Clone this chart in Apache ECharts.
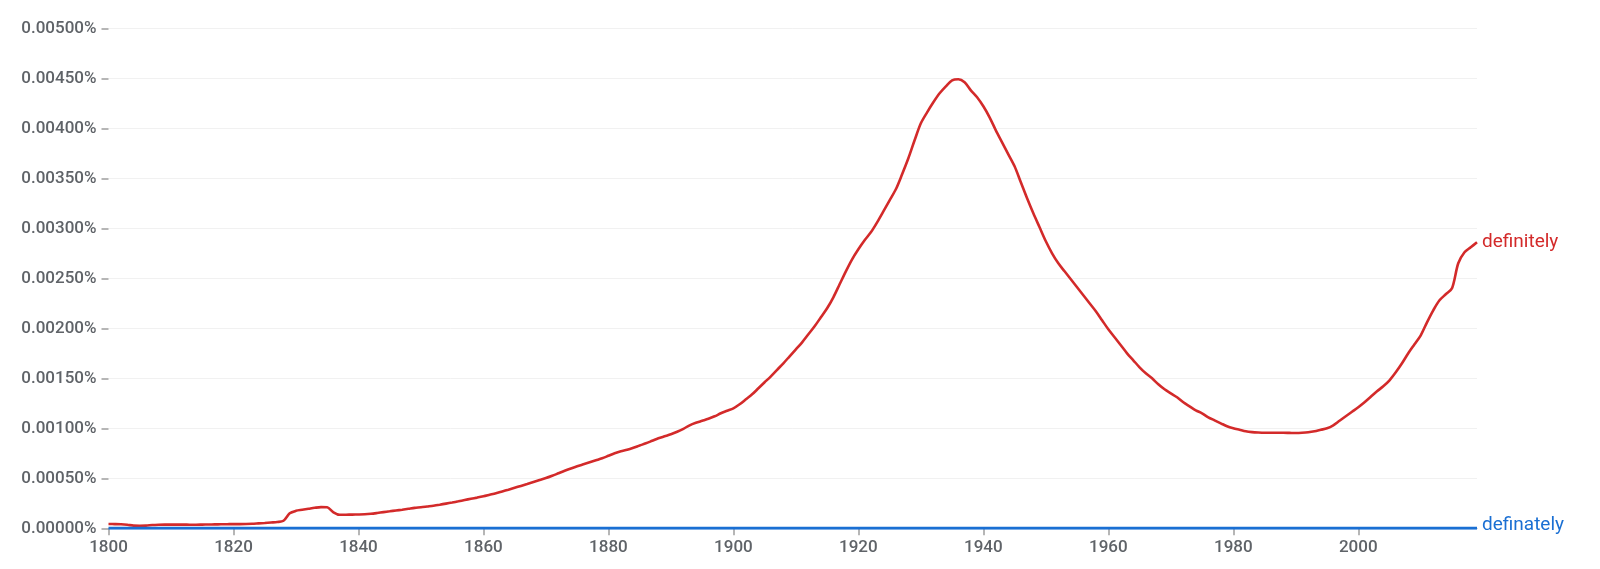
<!DOCTYPE html>
<html>
<head>
<meta charset="utf-8">
<script src="https://cdn.jsdelivr.net/npm/echarts@6/dist/echarts.min.js"></script>
<style>
html,body{margin:0;padding:0;background:#fff;}
#chart{width:1600px;height:569px;}
</style>
</head>
<body>
<div id="chart"></div>
<script>
// Years 1800..2019
var years = [];
for (var y = 1800; y <= 2019; y++) years.push(String(y));

// "definitely" (percent of corpus)
var definitely = [
0.000043,0.000042,0.000040,0.000035,0.000027,0.000026,0.000027,0.000033,0.000036,0.000037,
0.000037,0.000037,0.000037,0.000036,0.000036,0.000037,0.000038,0.000039,0.000040,0.000041,
0.000042,0.000042,0.000043,0.000045,0.000049,0.000053,0.000058,0.000063,0.000075,0.000150,
0.000175,0.000185,0.000195,0.000205,0.000212,0.000210,0.000160,0.000135,0.000136,0.000137,
0.000138,0.000140,0.000145,0.000153,0.000162,0.000170,0.000178,0.000186,0.000195,0.000204,
0.000210,0.000218,0.000226,0.000236,0.000247,0.000258,0.000270,0.000283,0.000295,0.000307,
0.000320,0.000335,0.000350,0.000368,0.000386,0.000405,0.000424,0.000443,0.000463,0.000483,
0.000502,0.000525,0.000550,0.000575,0.000598,0.000620,0.000640,0.000660,0.000680,0.000700,
0.000725,0.000750,0.000770,0.000785,0.000805,0.000828,0.000850,0.000875,0.000900,0.000920,
0.000940,0.000965,0.000995,0.001030,0.001055,0.001075,0.001095,0.001120,0.001150,0.001175,
0.001200,0.001240,0.001290,0.001340,0.001400,0.001460,0.001520,0.001585,0.001650,0.001720,
0.001790,0.001860,0.001940,0.002020,0.002110,0.002200,0.002310,0.002440,0.002570,0.002690,
0.002790,0.002880,0.002960,0.003060,0.003170,0.003280,0.003390,0.003540,0.003700,0.003880,
0.004050,0.004160,0.004260,0.004350,0.004420,0.004480,0.004490,0.004460,0.004380,0.004310,
0.004220,0.004110,0.003980,0.003860,0.003740,0.003620,0.003460,0.003300,0.003150,0.003010,
0.002870,0.002750,0.002650,0.002570,0.002490,0.002410,0.002330,0.002250,0.002170,0.002080,
0.001990,0.001910,0.001830,0.001750,0.001680,0.001610,0.001550,0.001500,0.001440,0.001390,
0.001350,0.001310,0.001260,0.001220,0.001180,0.001150,0.001110,0.001080,0.001050,0.001020,
0.001000,0.000985,0.000970,0.000962,0.000958,0.000956,0.000956,0.000955,0.000955,0.000954,
0.000953,0.000955,0.000960,0.000970,0.000985,0.001000,0.001030,0.001075,0.001120,0.001165,
0.001210,0.001260,0.001315,0.001370,0.001420,0.001480,0.001560,0.001650,0.001750,0.001840,
0.001930,0.002060,0.002180,0.002280,0.002340,0.002400,0.002650,0.002760,0.002810,0.002860
];

// "definately" (percent of corpus)
var definately = [
0.0000001,0.0000001,0.0000001,0.0000001,0.0000001,0.0000001,0.0000001,0.0000001,0.0000001,0.0000001,
0.0000001,0.0000001,0.0000001,0.0000001,0.0000001,0.0000001,0.0000001,0.0000001,0.0000001,0.0000001,
0.0000001,0.0000001,0.0000001,0.0000001,0.0000001,0.0000001,0.0000001,0.0000001,0.0000001,0.0000001,
0.0000001,0.0000001,0.0000001,0.0000001,0.0000001,0.0000001,0.0000001,0.0000001,0.0000001,0.0000001,
0.0000001,0.0000001,0.0000001,0.0000001,0.0000001,0.0000001,0.0000001,0.0000001,0.0000001,0.0000001,
0.0000001,0.0000001,0.0000001,0.0000001,0.0000001,0.0000001,0.0000001,0.0000001,0.0000001,0.0000001,
0.0000001,0.0000001,0.0000001,0.0000001,0.0000001,0.0000001,0.0000001,0.0000001,0.0000001,0.0000001,
0.0000001,0.0000001,0.0000001,0.0000001,0.0000001,0.0000001,0.0000001,0.0000001,0.0000001,0.0000001,
0.0000001,0.0000001,0.0000001,0.0000001,0.0000001,0.0000001,0.0000001,0.0000001,0.0000001,0.0000001,
0.0000001,0.0000001,0.0000001,0.0000001,0.0000001,0.0000001,0.0000001,0.0000001,0.0000001,0.0000001,
0.0000002,0.0000002,0.0000002,0.0000002,0.0000002,0.0000002,0.0000002,0.0000002,0.0000002,0.0000002,
0.0000002,0.0000002,0.0000002,0.0000002,0.0000002,0.0000002,0.0000002,0.0000002,0.0000002,0.0000002,
0.0000002,0.0000002,0.0000002,0.0000002,0.0000002,0.0000002,0.0000002,0.0000002,0.0000002,0.0000002,
0.0000002,0.0000002,0.0000002,0.0000002,0.0000002,0.0000002,0.0000002,0.0000002,0.0000002,0.0000002,
0.0000002,0.0000002,0.0000002,0.0000002,0.0000002,0.0000002,0.0000002,0.0000002,0.0000002,0.0000002,
0.0000002,0.0000002,0.0000002,0.0000002,0.0000002,0.0000002,0.0000002,0.0000002,0.0000002,0.0000002,
0.0000003,0.0000003,0.0000003,0.0000003,0.0000003,0.0000004,0.0000004,0.0000005,0.0000005,0.0000006,
0.0000007,0.0000008,0.0000008,0.0000009,0.0000009,0.0000009,0.0000009,0.0000009,0.0000009,0.0000009,
0.0000009,0.0000009,0.0000009,0.0000009,0.0000009,0.0000009,0.0000009,0.0000009,0.0000009,0.0000009,
0.0000009,0.0000009,0.0000008,0.0000007,0.0000006,0.0000005,0.0000005,0.0000005,0.0000005,0.0000005,
0.0000005,0.0000005,0.0000005,0.0000005,0.0000005,0.0000005,0.0000005,0.0000005,0.0000005,0.0000005,
0.0000005,0.0000005,0.0000005,0.0000005,0.0000005,0.0000005,0.0000005,0.0000005,0.0000005,0.0000005
];

var yTicks = [0, 0.0005, 0.001, 0.0015, 0.002, 0.0025, 0.003, 0.0035, 0.004, 0.0045, 0.005];

var chart = echarts.init(document.getElementById('chart'), null, {renderer: 'canvas'});
var fontFam = 'Roboto, "Noto Sans", sans-serif';
chart.setOption({
  animation: false,
  backgroundColor: '#ffffff',
  grid: {left: 108.5, right: 123, top: 28.3, bottom: 40.7, containLabel: false},
  xAxis: {
    type: 'category',
    data: years,
    boundaryGap: false,
    axisLine: {show: true, lineStyle: {color: '#9e9e9e', width: 1}},
    axisTick: {show: true, length: 7, lineStyle: {color: '#9e9e9e', width: 1.5},
      interval: function (i, v) { return Number(v) % 20 === 0; }},
    axisLabel: {
      interval: function (i, v) { return Number(v) % 20 === 0; },
      color: '#5f6368', fontFamily: fontFam, fontSize: 17, fontWeight: 500, margin: 11
    },
    splitLine: {show: false}
  },
  yAxis: {
    type: 'value',
    min: yTicks[0],
    max: yTicks[yTicks.length - 1],
    interval: 0.0005,
    axisLine: {show: false},
    axisTick: {show: true, length: 7, lineStyle: {color: '#9e9e9e', width: 1.5}},
    axisLabel: {
      color: '#5f6368', fontFamily: fontFam, fontSize: 17, fontWeight: 500, margin: 12,
      formatter: function (v) { return v.toFixed(5) + '%'; }
    },
    splitLine: {show: true, lineStyle: {color: '#f1f1f1', width: 1}}
  },
  series: [
    {
      name: 'definitely',
      type: 'line',
      data: definitely,
      showSymbol: false,
      smooth: 0.3,
      lineStyle: {color: '#d32a2a', width: 2.6},
      itemStyle: {color: '#d32a2a'},
      endLabel: {show: true, formatter: '{a}', color: '#d32a2a', fontFamily: fontFam, fontSize: 19, distance: 5},
      z: 3
    },
    {
      name: 'definately',
      type: 'line',
      data: definately,
      showSymbol: false,
      smooth: 0.3,
      lineStyle: {color: '#1a6fd3', width: 3},
      itemStyle: {color: '#1a6fd3'},
      endLabel: {show: true, formatter: '{a}', color: '#1a6fd3', fontFamily: fontFam, fontSize: 19, distance: 5, offset: [0, -3]},
      z: 4
    }
  ]
});
</script>
</body>
</html>
